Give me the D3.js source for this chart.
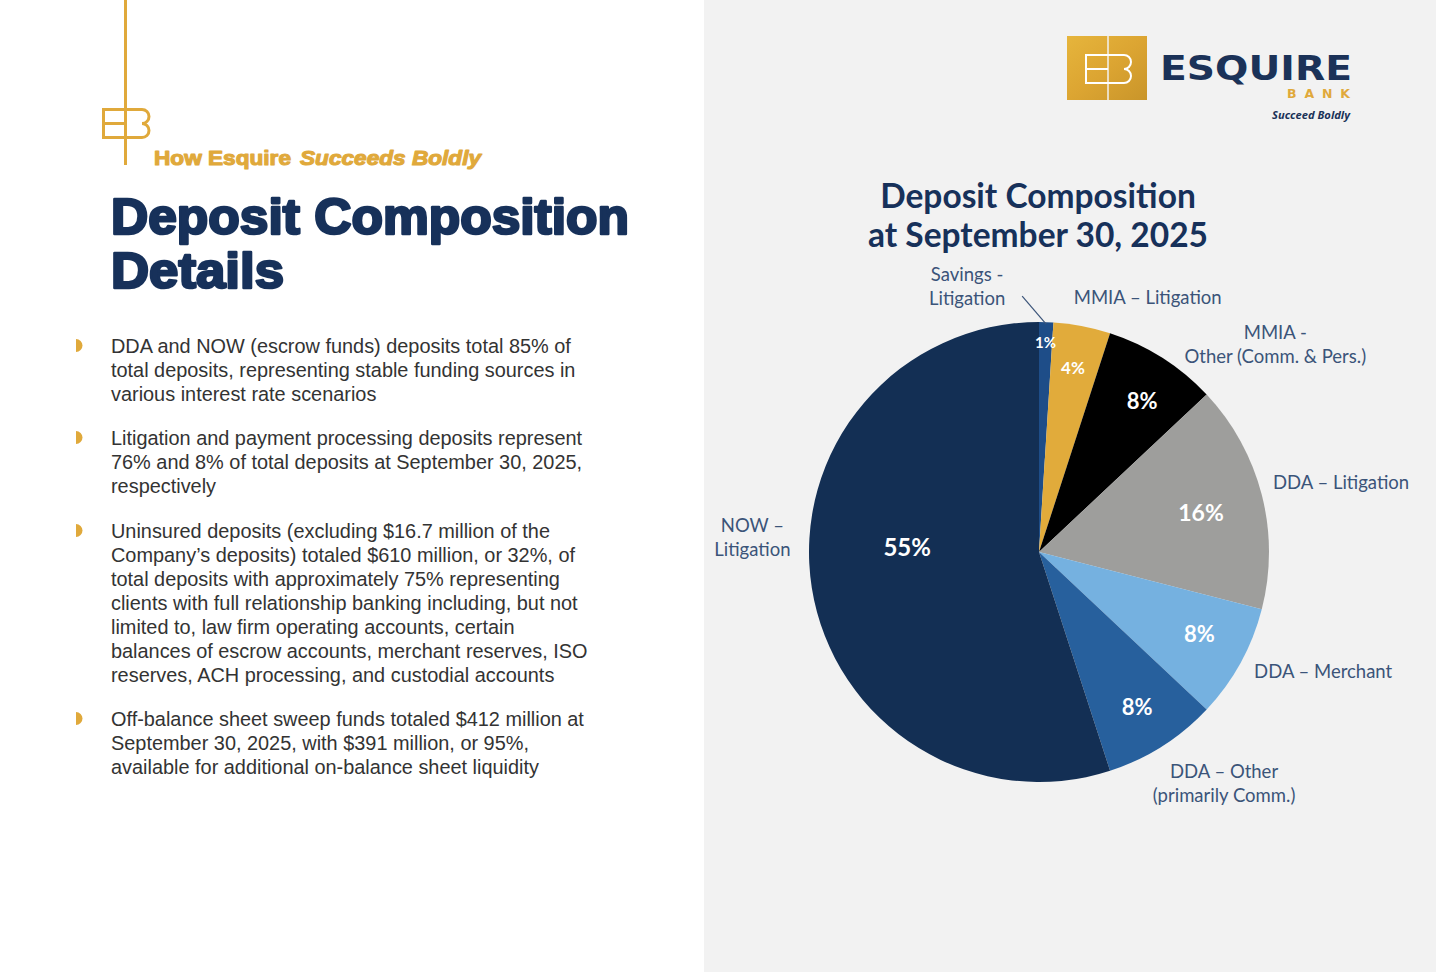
<!DOCTYPE html>
<html>
<head>
<meta charset="utf-8">
<script src="https://cdn.jsdelivr.net/npm/d3@7"></script>
<style>
  html, body { margin: 0; padding: 0; background: #fff; }
  svg { display: block; }
</style>
</head>
<body>
<div id="slide"></div>
<script>
// --- Datos ---
const categories = ["Savings - Litigation", "MMIA – Litigation", "MMIA - Other (Comm. & Pers.)",
    "DDA – Litigation", "DDA – Merchant", "DDA – Other (primarily Comm.)", "NOW – Litigation"];
const shares = [1, 4, 8, 16, 8, 8, 55];
const categoryLines = [
    ["Savings -", "Litigation"],
    ["MMIA – Litigation"],
    ["MMIA -", "Other (Comm. & Pers.)"],
    ["DDA – Litigation"],
    ["DDA – Merchant"],
    ["DDA – Other", "(primarily Comm.)"],
    ["NOW –", "Litigation"]
];
const sliceColors = ["#1e4d88", "#e1ab3b", "#000000", "#9e9e9c", "#75b1e0", "#27609d", "#132f54"];

const bullets = [
    ["DDA and NOW (escrow funds) deposits total 85% of",
     "total deposits, representing stable funding sources in",
     "various interest rate scenarios"],
    ["Litigation and payment processing deposits represent",
     "76% and 8% of total deposits at September 30, 2025,",
     "respectively"],
    ["Uninsured deposits (excluding $16.7 million of the",
     "Company’s deposits) totaled $610 million, or 32%, of",
     "total deposits with approximately 75% representing",
     "clients with full relationship banking including, but not",
     "limited to, law firm operating accounts, certain",
     "balances of escrow accounts, merchant reserves, ISO",
     "reserves, ACH processing, and custodial accounts"],
    ["Off-balance sheet sweep funds totaled $412 million at",
     "September 30, 2025, with $391 million, or 95%,",
     "available for additional on-balance sheet liquidity"]
];

// --- Colocación de etiquetas (grados respecto al centro del sector, radio) ---
const pctNudge = [0, -0.4, 1.9, 0.4, -1.8, 0, 11.6];
const pctRadius = [210, 188, 183, 167, 180, 183, 132];
const pctSize = [15, 17, 22, 23, 22, 22, 24];
const nameNudge = [-16.9, 12.3, 16.2, 1.4, -6.1, -6.3, 12];
const nameRadius = [276, 277, 315, 310, 308, 296, 287];

const W = 1436, H = 972;
const gold = "#e0a93b", navy = "#17315a", labelColor = "#3b5479";

const svg = d3.select("#slide").append("svg")
    .attr("width", W).attr("height", H);

// fondos
svg.append("rect").attr("width", W).attr("height", H).attr("fill", "#fff");
svg.append("rect").attr("x", 704).attr("width", W - 704).attr("height", H).attr("fill", "#f2f2f2");

// --- Marca izquierda ---
svg.append("line").attr("x1", 125.5).attr("x2", 125.5).attr("y1", 0).attr("y2", 165)
    .attr("stroke", gold).attr("stroke-width", 3);
svg.append("path")
    .attr("d", "M125,109.5 H103.5 V137.5 H125 M103.5,123.5 H125 M125,109.5 H142 A7,7 0 0 1 142,123.5 A7,7 0 0 1 142,137.5 H125")
    .attr("fill", "none").attr("stroke", gold).attr("stroke-width", 3);

const tag = svg.append("text").attr("x", 154).attr("y", 165)
    .attr("font-family", "Liberation Sans, Arial, sans-serif").attr("font-weight", 700)
    .attr("font-size", 20).attr("fill", gold)
    .attr("stroke", gold).attr("stroke-width", 1.1).attr("stroke-linejoin", "round");
tag.append("tspan").attr("textLength", 137).attr("lengthAdjust", "spacingAndGlyphs").text("How Esquire");
tag.append("tspan").attr("x", 300).attr("font-style", "italic")
    .attr("textLength", 181).attr("lengthAdjust", "spacingAndGlyphs").text("Succeeds Boldly");

const bigTitle = svg.append("g")
    .attr("font-family", "Liberation Sans, Arial, sans-serif").attr("font-weight", 700)
    .attr("font-size", 50).attr("fill", navy)
    .attr("stroke", navy).attr("stroke-width", 2.6).attr("stroke-linejoin", "round");
bigTitle.append("text").attr("x", 111).attr("y", 234)
    .attr("textLength", 518).attr("lengthAdjust", "spacingAndGlyphs")
    .text("Deposit Composition");
bigTitle.append("text").attr("x", 111).attr("y", 288)
    .attr("textLength", 173).attr("lengthAdjust", "spacingAndGlyphs")
    .text("Details");

// --- Viñetas ---
const firstBaseline = [353, 445, 538, 726];
const lineStep = 24;
bullets.forEach((lines, i) => {
    const y0 = firstBaseline[i];
    svg.append("path")
        .attr("d", `M76,${y0 - 14} A6.5,6.5 0 0 1 76,${y0 - 1} Z`)
        .attr("fill", gold);
    svg.append("g").selectAll("text").data(lines).join("text")
        .attr("x", 111)
        .attr("y", (d, j) => y0 + j * lineStep)
        .attr("font-family", "Liberation Sans, Arial, sans-serif")
        .attr("font-size", 19.9)
        .attr("fill", "#333")
        .text(d => d);
});

// --- Logo ---
const grad = svg.append("defs").append("linearGradient").attr("id", "goldGrad")
    .attr("x1", 0).attr("y1", 0).attr("x2", 1).attr("y2", 1);
grad.append("stop").attr("offset", "0%").attr("stop-color", "#e6b53c");
grad.append("stop").attr("offset", "50%").attr("stop-color", "#dca532");
grad.append("stop").attr("offset", "100%").attr("stop-color", "#c9952a");
svg.append("rect").attr("x", 1067).attr("y", 36).attr("width", 80).attr("height", 64)
    .attr("fill", "url(#goldGrad)");
svg.append("line").attr("x1", 1108).attr("x2", 1108).attr("y1", 36).attr("y2", 100)
    .attr("stroke", "#f2f2f2").attr("stroke-width", 1.5);
svg.append("path")
    .attr("d", "M1108,55 H1086 V83 H1108 M1086,69 H1108 M1108,55 H1124 A7,7 0 0 1 1124,69 A7,7 0 0 1 1124,83 H1108")
    .attr("fill", "none").attr("stroke", "#fff").attr("stroke-width", 2);
svg.append("text").attr("x", 1160).attr("y", 80)
    .attr("font-family", "DejaVu Sans, sans-serif").attr("font-weight", 700)
    .attr("font-size", 33).attr("fill", "#1b3258")
    .attr("textLength", 192).attr("lengthAdjust", "spacingAndGlyphs")
    .text("ESQUIRE");
svg.append("text").attr("x", 1287).attr("y", 98)
    .attr("font-family", "DejaVu Sans, sans-serif").attr("font-weight", 700)
    .attr("font-size", 12.5).attr("fill", gold)
    .attr("textLength", 63)
    .text("BANK");
svg.append("text").attr("x", 1272).attr("y", 119)
    .attr("font-family", "Noto Sans, sans-serif").attr("font-weight", 700).attr("font-style", "italic")
    .attr("font-size", 11).attr("fill", "#1b3258")
    .attr("textLength", 78).attr("lengthAdjust", "spacingAndGlyphs")
    .text("Succeed Boldly");

// --- Título del gráfico ---
const cx = 1039, cy = 552, radius = 230;
svg.append("g").selectAll("text")
    .data(["Deposit Composition", "at September 30, 2025"]).join("text")
    .attr("x", 1038).attr("y", (d, i) => 208 + i * 39)
    .attr("text-anchor", "middle")
    .attr("font-family", "Lato, sans-serif").attr("font-weight", 700)
    .attr("font-size", 33.5).attr("fill", navy)
    .text(d => d);

// --- Pastel ---
const pie = d3.pie().sort(null).value(d => d)(shares);
const arc = d3.arc().innerRadius(0).outerRadius(radius);
const g = svg.append("g").attr("transform", `translate(${cx},${cy})`);

g.selectAll("path.slice").data(pie).join("path")
    .attr("class", "slice")
    .attr("d", arc)
    .attr("fill", (d, i) => sliceColors[i]);

const midAngle = d => (d.startAngle + d.endAngle) / 2;
const polar = (a, r) => [Math.sin(a) * r, -Math.cos(a) * r];
const rad = deg => deg * Math.PI / 180;

g.selectAll("text.pct").data(pie).join("text")
    .attr("class", "pct")
    .attr("transform", (d, i) => {
        const [x, y] = polar(midAngle(d) + rad(pctNudge[i]), pctRadius[i]);
        return `translate(${x},${y})`;
    })
    .attr("text-anchor", "middle").attr("dominant-baseline", "central")
    .attr("font-family", "Lato, sans-serif").attr("font-weight", 700)
    .attr("font-size", (d, i) => pctSize[i]).attr("fill", "#fff")
    .text(d => d.value + "%");

// etiquetas externas
const names = g.selectAll("g.name").data(pie).join("g")
    .attr("class", "name")
    .attr("transform", (d, i) => {
        const [x, y] = polar(midAngle(d) + rad(nameNudge[i]), nameRadius[i]);
        return `translate(${x},${y})`;
    });
names.each(function (d, i) {
    const lines = categoryLines[i];
    d3.select(this).selectAll("text").data(lines).join("text")
        .attr("y", (t, j) => (j - (lines.length - 1) / 2) * 24)
        .attr("text-anchor", "middle").attr("dominant-baseline", "central")
        .attr("font-family", "Lato, sans-serif").attr("font-size", 18.5)
        .attr("fill", labelColor)
        .text(t => t);
});

// línea guía para el sector pequeño
const tip = polar(midAngle(pie[0]), radius - 2);
g.append("line")
    .attr("x1", tip[0] - 24).attr("y1", tip[1] - 28)
    .attr("x2", tip[0]).attr("y2", tip[1])
    .attr("stroke", labelColor).attr("stroke-width", 1.2);
</script>
</body>
</html>
